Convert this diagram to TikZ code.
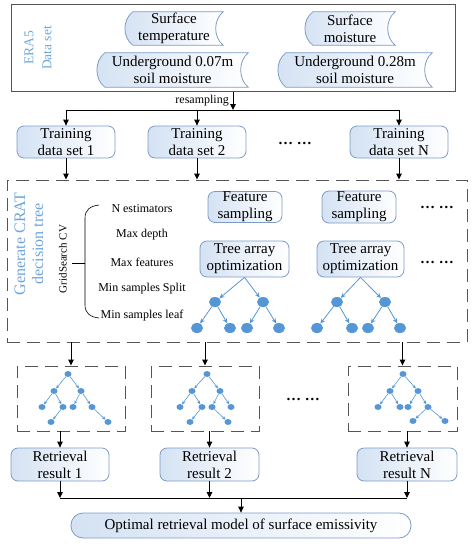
\documentclass[tikz,border=0pt]{standalone}
\usepackage{fontspec}
\setmainfont{Liberation Serif}
\usetikzlibrary{arrows.meta,shapes.geometric,calc,backgrounds}
\definecolor{boxline}{RGB}{125,155,200}
\definecolor{fillblue}{RGB}{212,226,243}
\definecolor{treeblue}{RGB}{85,150,215}
\definecolor{labblue}{RGB}{110,165,218}
\definecolor{dashgray}{RGB}{85,85,85}
\newcommand\mf{\fontsize{15}{17}\selectfont}
\newcommand\pf{\fontsize{12}{14}\selectfont}
\newcommand\storeshape[1]{%
 \path[draw=boxline, line width=0.8pt, left color=fillblue, right color=white]
 ([xshift=8pt]#1.north west) -- (#1.north east)
 .. controls ([xshift=-10pt,yshift=-8pt]#1.north east) and ([xshift=-10pt,yshift=8pt]#1.south east) .. (#1.south east)
 -- ([xshift=8pt]#1.south west)
 .. controls ([xshift=-2.5pt,yshift=8pt]#1.south west) and ([xshift=-2.5pt,yshift=-8pt]#1.north west) .. ([xshift=8pt]#1.north west) -- cycle;}
\begin{document}
\begin{tikzpicture}[x=1pt,y=-1pt,
  rbox/.style={draw=boxline, line width=0.8pt, rounded corners=7pt, left color=fillblue, right color=white, align=center, font=\mf, inner sep=0pt},
  stbox/.style={align=center, font=\mf, inner sep=0pt},
  dashbox/.style={draw=dashgray, line width=0.9pt, dash pattern=on 13pt off 7pt, inner sep=0pt},
  arr/.style={black, line width=0.9pt, -{Triangle[length=6pt,width=5.5pt]}},
  plain/.style={black, line width=0.9pt},
  tnode/.style={ellipse, fill=treeblue, minimum width=12pt, minimum height=10pt, inner sep=0pt},
  snode/.style={ellipse, fill=treeblue, minimum width=7pt, minimum height=6pt, inner sep=0pt},
  tarr/.style={treeblue, line width=0.8pt, -{Stealth[length=5pt,width=4.5pt]}},
  sarr/.style={treeblue, line width=0.6pt, -{Stealth[length=3.5pt,width=3.2pt]}},
  lab/.style={font=\pf, inner sep=0pt},
  dots/.style={font=\mf\bfseries, inner sep=0pt, anchor=base}
]
\useasboundingbox (0,0) rectangle (474,547);

% ERA5 box
\node[draw=dashgray, line width=1pt, minimum width=444pt, minimum height=87pt, inner sep=0pt] (era) at (233,47.5) {};
\node[rotate=90, align=center, text=labblue, font=\fontsize{13.5}{18}\selectfont, inner sep=0pt] (eralab) at (38,48) {ERA5\\Data set};
\node[stbox, minimum width=98pt, minimum height=33pt] (st) at (174,28.5) {Surface\\temperature};
\node[stbox, minimum width=90pt, minimum height=33pt] (sm) at (350,28.5) {Surface\\moisture};
\node[stbox, minimum width=151pt, minimum height=34pt] (u1) at (172.5,70) {Underground 0.07m\\soil moisture};
\node[stbox, minimum width=154pt, minimum height=34pt] (u2) at (355,70) {Underground 0.28m\\soil moisture};
\begin{scope}[on background layer]
\storeshape{st}
\storeshape{sm}
\storeshape{u1}
\storeshape{u2}
\end{scope}

% resampling
\coordinate (hs) at (233,110);
\draw[arr] (era.south) -- (hs);
\node[lab, anchor=east] (resl) at (229,101) {resampling};

% training
\node[rbox, minimum width=98pt, minimum height=32pt] (t1) at (66,142) {Training\\data set 1};
\node[rbox, minimum width=98pt, minimum height=32pt] (t2) at (197,142) {Training\\data set 2};
\node[rbox, minimum width=98pt, minimum height=32pt] (tN) at (399,142) {Training\\data set N};
\node[dots] (d1) at (295,144) {\ldots\ \ldots};
\draw[plain] (t1.north |- hs) -- (tN.north |- hs);
\draw[arr] (t1.north |- hs) -- (t1.north);
\draw[arr] (t2.north |- hs) -- (t2.north);
\draw[arr] (tN.north |- hs) -- (tN.north);

% big dashed box
\node[dashbox, minimum width=460pt, minimum height=162pt] (big) at (237,261) {};
\draw[arr] (t1.south) -- (t1.south |- big.north);
\draw[arr] (t2.south) -- (t2.south |- big.north);
\draw[arr] (tN.south) -- (tN.south |- big.north);

\node[rotate=90, align=center, text=labblue, font=\fontsize{16}{18}\selectfont, inner sep=0pt] (genlab) at (29,244) {Generate CRAT\\decision tree};
\node[rotate=90, font=\fontsize{11}{13}\selectfont, inner sep=0pt] (gs) at (63,259) {GridSearch CV};
\coordinate (tk1) at (72,263);
\coordinate (tk2) at (85,263);
\coordinate (bt) at (99,205);
\coordinate (bb) at (99,318);
\draw[line width=0.6pt] (tk1) -- (tk2);
\draw[line width=0.6pt] (bt) .. controls (90,206) and (85,210) .. (85,218) -- (85,305) .. controls (85,313) and (90,317) .. (bb);

\node[lab] (p1) at (142,209) {N estimators};
\node[lab] (p2) at (142,235) {Max depth};
\node[lab] (p3) at (142,262) {Max features};
\node[lab] (p4) at (142,289) {Min samples Split};
\node[lab] (p5) at (142,316) {Min samples leaf};

\node[rbox, minimum width=74pt, minimum height=31pt] (fs1) at (245,207) {Feature\\sampling};
\node[rbox, minimum width=74pt, minimum height=32pt] (fs2) at (359,207) {Feature\\sampling};
\node[rbox, minimum width=89pt, minimum height=36pt] (ta1) at (244.5,259) {Tree array\\optimization};
\node[rbox, minimum width=87pt, minimum height=36pt] (ta2) at (360.5,259) {Tree array\\optimization};
\node[dots] (d2) at (437,208) {\ldots\ \ldots};
\node[dots] (d3) at (437,263) {\ldots\ \ldots};

% big trees
\node[tnode] (a1) at (215,302) {};
\node[tnode] (a2) at (263,302) {};
\node[tnode] (a11) at (197,328) {};
\node[tnode] (a12) at (230,328) {};
\node[tnode] (a21) at (247,328) {};
\node[tnode] (a22) at (279,328) {};
\draw[tarr] (ta1.south) -- (a1);
\draw[tarr] (ta1.south) -- (a2);
\draw[tarr] (a1) -- (a11);
\draw[tarr] (a1) -- (a12);
\draw[tarr] (a2) -- (a21);
\draw[tarr] (a2) -- (a22);
\node[tnode] (b1) at (337,302) {};
\node[tnode] (b2) at (385,302) {};
\node[tnode] (b11) at (317,328) {};
\node[tnode] (b12) at (352,328) {};
\node[tnode] (b21) at (368,328) {};
\node[tnode] (b22) at (400,328) {};
\draw[tarr] (ta2.south) -- (b1);
\draw[tarr] (ta2.south) -- (b2);
\draw[tarr] (b1) -- (b11);
\draw[tarr] (b1) -- (b12);
\draw[tarr] (b2) -- (b21);
\draw[tarr] (b2) -- (b22);

% small boxes
\node[dashbox, minimum width=108pt, minimum height=65pt] (s1) at (71,398.5) {};
\node[dashbox, minimum width=108pt, minimum height=65pt] (s2) at (205,398.5) {};
\node[dashbox, minimum width=109pt, minimum height=65pt] (sN) at (402.5,398.5) {};
\node[dots] (d4) at (303,400) {\ldots\ \ldots};
\draw[arr] (s1.north |- big.south) -- (s1.north);
\draw[arr] (s2.north |- big.south) -- (s2.north);
\draw[arr] (sN.north |- big.south) -- (sN.north);

% small tree 1
\node[snode] (c0) at (68,374) {};
\node[snode] (c1) at (54,391) {};
\node[snode] (c2) at (81,391) {};
\node[snode] (c11) at (42,407) {};
\node[snode] (c12) at (63,407) {};
\node[snode] (c21) at (73,407) {};
\node[snode] (c22) at (92,407) {};
\node[snode] (c121) at (51,422) {};
\node[snode] (c221) at (108,422) {};
\draw[sarr] (c0) -- (c1);
\draw[sarr] (c0) -- (c2);
\draw[sarr] (c1) -- (c11);
\draw[sarr] (c1) -- (c12);
\draw[sarr] (c2) -- (c21);
\draw[sarr] (c2) -- (c22);
\draw[sarr] (c12) -- (c121);
\draw[sarr] (c22) -- (c221);
% small tree 2
\node[snode] (e0) at (207,374) {};
\node[snode] (e1) at (192,391) {};
\node[snode] (e2) at (220,391) {};
\node[snode] (e11) at (180,407) {};
\node[snode] (e12) at (202,407) {};
\node[snode] (e21) at (212,407) {};
\node[snode] (e22) at (231,407) {};
\node[snode] (e121) at (190,422) {};
\node[snode] (e211) at (228,422) {};
\draw[sarr] (e0) -- (e1);
\draw[sarr] (e0) -- (e2);
\draw[sarr] (e1) -- (e11);
\draw[sarr] (e1) -- (e12);
\draw[sarr] (e2) -- (e21);
\draw[sarr] (e2) -- (e22);
\draw[sarr] (e12) -- (e121);
\draw[sarr] (e21) -- (e211);
% small tree N
\node[snode] (f0) at (403,374) {};
\node[snode] (f1) at (390,391) {};
\node[snode] (f2) at (418,391) {};
\node[snode] (f11) at (378,407) {};
\node[snode] (f12) at (400,407) {};
\node[snode] (f21) at (408,407) {};
\node[snode] (f22) at (428,407) {};
\node[snode] (f221) at (413,421) {};
\node[snode] (f222) at (445,421) {};
\draw[sarr] (f0) -- (f1);
\draw[sarr] (f0) -- (f2);
\draw[sarr] (f1) -- (f11);
\draw[sarr] (f1) -- (f12);
\draw[sarr] (f2) -- (f21);
\draw[sarr] (f2) -- (f22);
\draw[sarr] (f22) -- (f221);
\draw[sarr] (f22) -- (f222);

% retrieval
\node[rbox, minimum width=98pt, minimum height=33pt] (r1) at (60,464.5) {Retrieval\\result 1};
\node[rbox, minimum width=99pt, minimum height=33pt] (r2) at (209.5,464.5) {Retrieval\\result 2};
\node[rbox, minimum width=100pt, minimum height=33pt] (rN) at (407,464.5) {Retrieval\\result N};
\draw[arr] (r1.north |- s1.south) -- (r1.north);
\draw[arr] (r2.north |- s2.south) -- (r2.north);
\draw[arr] (rN.north |- sN.south) -- (rN.north);

\node[rbox, rounded corners=12pt, minimum width=340pt, minimum height=25pt] (opt) at (241,525.5) {Optimal retrieval model of surface emissivity};
\coordinate (yb) at (241,498);
\draw[plain] (r1.south |- yb) -- (rN.south |- yb);
\draw[arr] (r1.south) -- (r1.south |- yb);
\draw[arr] (r2.south) -- (r2.south |- yb);
\draw[arr] (rN.south) -- (rN.south |- yb);
\draw[arr] (yb) -- (opt.north);
\end{tikzpicture}
\end{document}
